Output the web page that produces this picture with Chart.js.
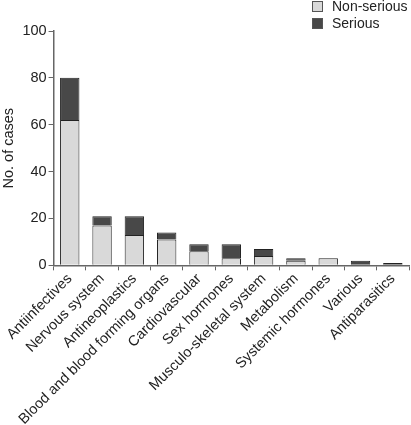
<!DOCTYPE html>
<html lang="en">
<head>
  <meta charset="UTF-8">
  <title>Cases by drug class</title>
  <script src="https://cdn.jsdelivr.net/npm/chart.js"></script>
  <style>
    body {
      margin: 0;
      background-color: #fff;
    }

    #wrap {
      width: 411px;
      height: 425px;
      position: relative;
    }
  </style>
</head>
<body>
<div id="wrap">
  <canvas id="casesChart"></canvas>
</div>

<script>
    const categories = ['Antiinfectives', 'Nervous system', 'Antineoplastics', 'Blood and blood forming organs',
        'Cardiovascular', 'Sex hormones', 'Musculo-skeletal system', 'Metabolism', 'Systemic hormones',
        'Various', 'Antiparasitics'];
    const nonSerious = [62, 17, 13, 11, 6, 3, 4, 2, 3, 0, 0];
    const serious = [18, 4, 8, 3, 3, 6, 3, 1, 0, 2, 1];
    const yTicks = [0, 20, 40, 60, 80, 100];

    const fontFamily = '"Liberation Sans", Arial, sans-serif';
    const axisColor = '#666';

    // small legend in the top right corner, stacked like the original
    const cornerLegend = {
        id: 'cornerLegend',
        afterDraw(chart) {
            const ctx = chart.ctx;
            ctx.save();
            ctx.font = '14px ' + fontFamily;
            ctx.textBaseline = 'middle';
            chart.data.datasets.forEach((ds, i) => {
                const y = 6 + i * 17;
                ctx.fillStyle = ds.backgroundColor;
                ctx.strokeStyle = '#555';
                ctx.lineWidth = 1;
                ctx.fillRect(312.5, y - 4.5, 10, 10);
                ctx.strokeRect(312.5, y - 4.5, 10, 10);
                ctx.fillStyle = '#222';
                ctx.fillText(ds.label, 332, y + 1);
            });
            ctx.restore();
        }
    };

    const ctx = document.getElementById('casesChart').getContext('2d');
    new Chart(ctx, {
        type: 'bar',
        data: {
            labels: categories,
            datasets: [{
                label: 'Non-serious',
                data: nonSerious,
                backgroundColor: '#d9d9d9',
                borderColor: '#222',
                borderWidth: 1,
            }, {
                label: 'Serious',
                data: serious,
                backgroundColor: '#484848',
                borderColor: '#222',
                borderWidth: 1,
            }]
        },
        options: {
            responsive: true,
            maintainAspectRatio: false,
            animation: false,
            datasets: {
                bar: {
                    categoryPercentage: 1,
                    barPercentage: 0.6,
                }
            },
            layout: {
                padding: { top: 31, right: 2, left: 0, bottom: -3 }
            },
            plugins: {
                legend: { display: false },
                tooltip: { enabled: false }
            },
            scales: {
                x: {
                    stacked: true,
                    grid: {
                        drawOnChartArea: false,
                        color: axisColor,
                        tickLength: 5,
                    },
                    border: { color: axisColor, width: 1.5 },
                    ticks: {
                        color: '#222',
                        font: { family: fontFamily, size: 14.5 },
                        minRotation: 45,
                        maxRotation: 45,
                        padding: 0,
                        autoSkip: false,
                    }
                },
                y: {
                    stacked: true,
                    min: 0,
                    max: 100,
                    afterBuildTicks: (axis) => {
                        axis.ticks = yTicks.map(v => ({ value: v }));
                    },
                    grid: {
                        drawOnChartArea: false,
                        color: axisColor,
                        tickLength: 5,
                    },
                    border: { color: axisColor, width: 1.5 },
                    ticks: {
                        color: '#222',
                        font: { family: fontFamily, size: 14.5 },
                        padding: 2,
                    },
                    title: {
                        display: true,
                        text: 'No. of cases',
                        color: '#222',
                        font: { family: fontFamily, size: 14.5 },
                        padding: { top: 0, bottom: 3 }
                    }
                }
            }
        },
        plugins: [cornerLegend]
    });
</script>
</body>
</html>
